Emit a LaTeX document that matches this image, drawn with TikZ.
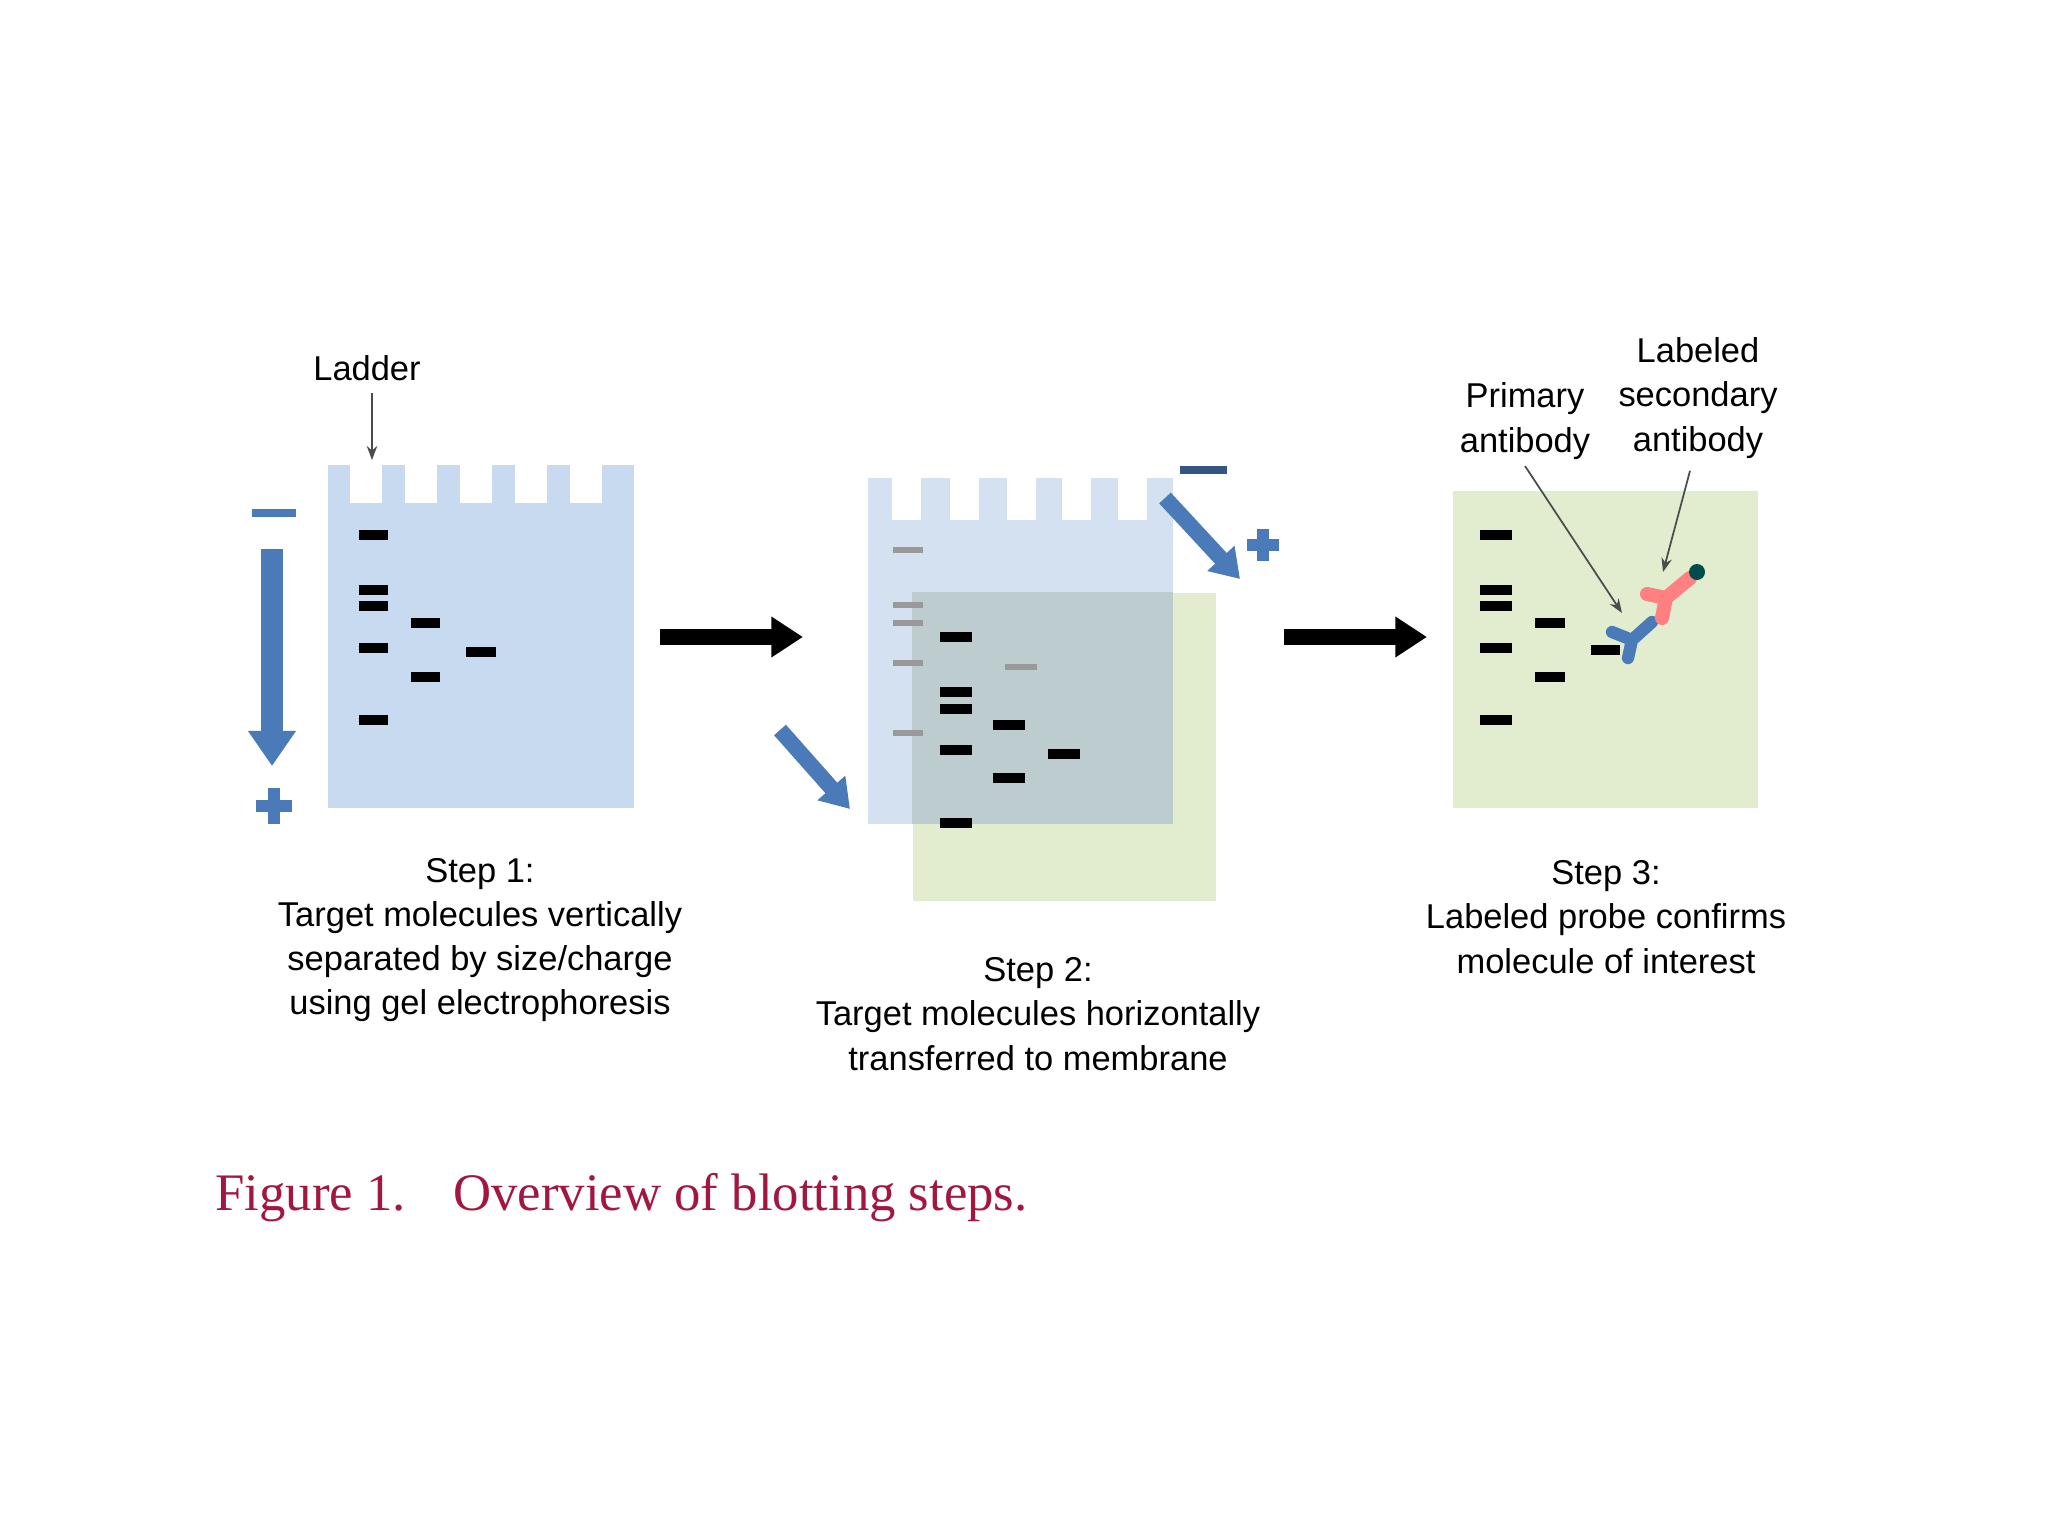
\documentclass[tikz,border=0pt]{standalone}
\usepackage{fontspec}
\setmainfont{Liberation Sans}
\newfontfamily\capfont{Liberation Serif}
\usetikzlibrary{arrows.meta, positioning}
\definecolor{gelblue}{HTML}{C8DAEF}
\definecolor{gelpale}{HTML}{D4E1F1}
\definecolor{overlap}{HTML}{BDCDCF}
\definecolor{memgreen}{HTML}{E2EDD0}
\definecolor{arrowblue}{HTML}{4A7AB8}
\definecolor{capred}{HTML}{A3173F}
\begin{document}
\begin{tikzpicture}[
        x=0.01cm, y=-0.01cm,
        band/.style={line width=2.6pt, black},
        ladderband/.style={line width=1.8pt, gray!80},
        bluearrow/.style={arrowblue, line width=6.5pt, -{Triangle[width=13pt,length=10pt]}},
        thinarrow/.style={arrowblue, line width=4.5pt, -{Triangle[width=10pt,length=8pt]}},
        steparrow/.style={black, line width=4.5pt, -{Triangle[width=11pt,length=9pt]}},
        plusbar/.style={arrowblue, line width=3.5pt},
        caption/.style={align=center, font=\fontsize{9.8}{12.6}\selectfont},
        leader/.style={gray!60!black, line width=0.5pt, -{Stealth[length=4pt]}},
        >=Stealth
      ]
      \useasboundingbox (0,0) rectangle (2048,1536);

      % Step 1: gel
      \node[fill=gelblue, minimum width=306*0.01cm, minimum height=343*0.01cm, inner sep=0, anchor=north west] (gel1) at (327,464) {};
      \foreach \x in {350,405,460,515,570}
        \fill[white] (\x,463) rectangle ++(32,40);
      \foreach \y in {535,590,606,648,720}
        \draw[band] (359,\y) -- (388,\y);
      \foreach \y in {623,677}
        \draw[band] (411,\y) -- (440,\y);
      \draw[band] (466,652) -- (496,652);

      \node (ladder) at (367,368) {\fontsize{9.8}{12}\selectfont Ladder};
      \coordinate (ladtip) at (372,460);
      \draw[leader] (ladder.south -| ladtip) -- (ladtip);

      % electrodes, step 1
      \draw[arrowblue, line width=2.5pt] (252,513) -- (296,513);
      \draw[bluearrow] (272,549) -- (272,766);
      \draw[plusbar] (256,806) -- (292,806);
      \draw[plusbar] (274,788) -- (274,824);

      % Step 2: membrane under gel
      \node[fill=memgreen, minimum width=303*0.01cm, minimum height=308*0.01cm, inner sep=0, anchor=north west] (mem2) at (912,592) {};
      \node[fill=gelpale, minimum width=305*0.01cm, minimum height=346*0.01cm, inner sep=0, anchor=north west] (gel2) at (867,477) {};
      \fill[overlap] (mem2.north west) rectangle (gel2.south east);
      \foreach \x in {892,950,1007,1062,1118}
        \fill[white] (\x,476) rectangle ++(29,44);
      \foreach \y in {550,605,623,663,733}
        \draw[ladderband] (893,\y) -- (923,\y);
      \draw[ladderband] (1005,667) -- (1037,667);
      \foreach \y in {637,692,709,750,823}
        \draw[band] (940,\y) -- (972,\y);
      \foreach \y in {725,778}
        \draw[band] (993,\y) -- (1025,\y);
      \draw[band] (1048,754) -- (1080,754);

      % electrodes, step 2
      \draw[thinarrow] (780,730) -- (850,809);
      \draw[thinarrow] (1165,498) -- (1240,579);
      \draw[arrowblue!70!black, line width=2.5pt] (1180,470) -- (1227,470);
      \draw[plusbar] (1247,545) -- (1279,545);
      \draw[plusbar] (1263,529) -- (1263,561);

      % Step 3: probed membrane
      \node[fill=memgreen, minimum width=305*0.01cm, minimum height=317*0.01cm, inner sep=0, anchor=north west] (mem3) at (1452,490) {};
      \foreach \y in {535,590,606,648,720}
        \draw[band] (1480,\y) -- (1512,\y);
      \foreach \y in {623,677}
        \draw[band] (1535,\y) -- (1565,\y);
      \draw[band] (1591,650) -- (1620,650);

      % antibodies
      \draw[arrowblue, line width=3.5pt, line cap=round] (1652,622) -- (1632,640) -- (1612,632)
        (1632,640) -- (1628,658);
      \draw[red!50!white, line width=4pt, line cap=round] (1690,578) -- (1666,598) -- (1647,594)
        (1666,598) -- (1662,618);
      \fill[teal!60!black] (1697,572) circle (8);

      \node[caption] (primary) at (1525,421) {Primary\\antibody};
      \node[caption] (secondary) at (1698,398) {Labeled\\secondary\\antibody};
      \coordinate (pritip) at (1622,613);
      \coordinate (sectip) at (1663,572);
      \draw[leader] (1525,466) -- (pritip);
      \draw[leader] (secondary.south) ++(-8,0) -- (sectip);

      % arrows between steps
      \draw[steparrow] (660,637) -- (803,637);
      \draw[steparrow] (1284,637) -- (1427,637);

      % captions
      \node[caption] (step1) at (480,940) {Step 1:\\Target molecules vertically\\separated by size/charge\\using gel electrophoresis};
      \node[caption] (step2) at (1038,1014) {Step 2:\\Target molecules horizontally\\transferred to membrane};
      \node[caption] (step3) at (1606,917) {Step 3:\\Labeled probe confirms\\molecule of interest};

      \node[anchor=west, text=capred, font=\capfont\fontsize{15}{18}\selectfont] (fig) at (203,1198) {Figure 1.\hspace{0.9em}Overview of blotting steps.};
      \end{tikzpicture}
\end{document}
